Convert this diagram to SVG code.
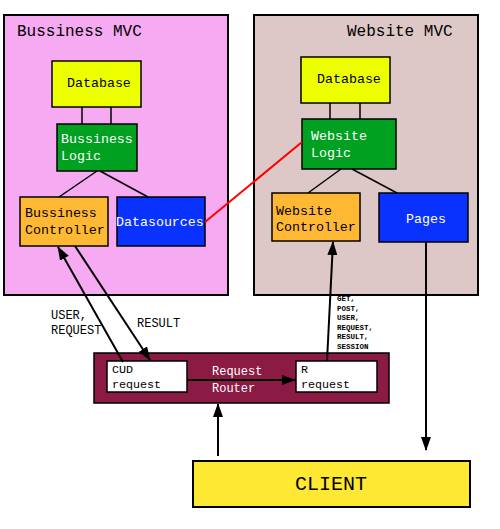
<svg xmlns="http://www.w3.org/2000/svg" width="500" height="529" viewBox="0 0 500 529">
<style>
text{font-family:"Liberation Mono","DejaVu Sans Mono",monospace;}
.t{font-size:13.3px;fill:#000;}
.w{font-size:13.3px;fill:#fff;}
.b{stroke:#000;stroke-width:1.5;}
.big{stroke:#000;stroke-width:2;}
.ln{stroke:#000;stroke-width:1.5;fill:none;}
.ar{stroke:#000;stroke-width:2;fill:none;marker-end:url(#ah);}
</style>
<defs>
<marker id="ah" markerWidth="14" markerHeight="10" refX="13" refY="5" orient="auto" markerUnits="userSpaceOnUse">
<path d="M0,0 L14,5 L0,10 Z" fill="#000"/>
</marker>
</defs>
<rect width="500" height="529" fill="#fff"/>
<g id="bussiness-mvc">
<rect x="4" y="15" width="224" height="280" fill="#f5aaf2" class="big"/>
<text x="17" y="36" style="font-size:16px">Bussiness MVC</text>
</g>
<g id="website-mvc">
<rect x="254" y="15" width="224" height="280" fill="#dec7c7" class="big"/>
<text x="347" y="36" style="font-size:16px">Website MVC</text>
</g>
<g id="b-database">
<rect x="52" y="61" width="89" height="46" fill="#eeff00" class="b"/>
<text x="67" y="87" class="t">Database</text>
</g>
<g id="b-logic">
<rect x="57" y="124" width="80" height="47" fill="#00a020" class="b"/>
<text x="61" y="143" class="w">Bussiness</text>
<text x="61" y="160" class="w">Logic</text>
</g>
<g id="b-controller">
<rect x="20" y="197" width="88" height="49" fill="#ffb833" class="b"/>
<text x="25" y="217" class="t">Bussiness</text>
<text x="25" y="234" class="t">Controller</text>
</g>
<g id="b-datasources">
<rect x="117" y="197" width="88" height="49" fill="#0a32ff" class="b"/>
<text x="116" y="226" class="w">Datasources</text>
</g>
<g id="w-database">
<rect x="301" y="57" width="89" height="46" fill="#eeff00" class="b"/>
<text x="317" y="83" class="t">Database</text>
</g>
<g id="w-logic">
<rect x="302" y="119" width="94" height="50" fill="#00a020" class="b"/>
<text x="311" y="140" class="w">Website</text>
<text x="311" y="157" class="w">Logic</text>
</g>
<g id="w-controller">
<rect x="272" y="193" width="88" height="48" fill="#ffb833" class="b"/>
<text x="276" y="215" class="t">Website</text>
<text x="276" y="231" class="t">Controller</text>
</g>
<g id="w-pages">
<rect x="379" y="193" width="89" height="49" fill="#0a32ff" class="b"/>
<text x="406" y="223" class="w">Pages</text>
</g>
<g id="request-router">
<rect x="94" y="353" width="295" height="50" fill="#8b1a44" class="b"/>
<text x="212" y="375" style="font-size:12px;fill:#fff">Request</text>
<text x="212" y="392" style="font-size:12px;fill:#fff">Router</text>
</g>
<g id="cud-request">
<rect x="107" y="361" width="80" height="31" fill="#fff" class="b"/>
<text x="112" y="373" style="font-size:11.7px">CUD</text>
<text x="112" y="388" style="font-size:11.7px">request</text>
</g>
<g id="r-request">
<rect x="296" y="361" width="81" height="31" fill="#fff" class="b"/>
<text x="301" y="373" style="font-size:11.7px">R</text>
<text x="301" y="388" style="font-size:11.7px">request</text>
</g>
<g id="client">
<rect x="193" y="461" width="277" height="46" fill="#ffe833" class="big"/>
<text x="331" y="490" text-anchor="middle" style="font-size:20px">CLIENT</text>
</g>
<g id="connectors">
<line class="ln" x1="82" y1="107" x2="82" y2="124"/>
<line class="ln" x1="111" y1="107" x2="111" y2="124"/>
<line class="ln" x1="97" y1="171" x2="59" y2="197"/>
<line class="ln" x1="100" y1="171" x2="148" y2="197"/>
<line class="ln" x1="330" y1="103" x2="330" y2="119"/>
<line class="ln" x1="360" y1="103" x2="360" y2="119"/>
<line class="ln" x1="341" y1="169" x2="308" y2="193"/>
<line class="ln" x1="352" y1="169" x2="397" y2="193"/>
<line x1="205" y1="222" x2="302" y2="142" stroke="#ff0000" stroke-width="2"/>
<line class="ar" x1="123" y1="362" x2="58" y2="247"/>
<line class="ar" x1="75" y1="246" x2="150" y2="360"/>
<line class="ar" x1="327" y1="361" x2="333" y2="242"/>
<line class="ar" x1="426" y1="242" x2="426" y2="450"/>
<line class="ar" x1="218" y1="456" x2="218" y2="404"/>
<line class="ar" x1="187" y1="380" x2="295" y2="380"/>
<text x="51" y="319" style="font-size:12px">USER,</text>
<text x="51" y="334" style="font-size:12px">REQUEST</text>
<text x="137" y="327" style="font-size:12px">RESULT</text>
<g style="font-size:7.5px;font-weight:bold">
<text x="337" y="301">GET,</text>
<text x="337" y="311">POST,</text>
<text x="337" y="320">USER,</text>
<text x="337" y="330">REQUEST,</text>
<text x="337" y="339">RESULT,</text>
<text x="337" y="349">SESSION</text>
</g>
</g>
</svg>
